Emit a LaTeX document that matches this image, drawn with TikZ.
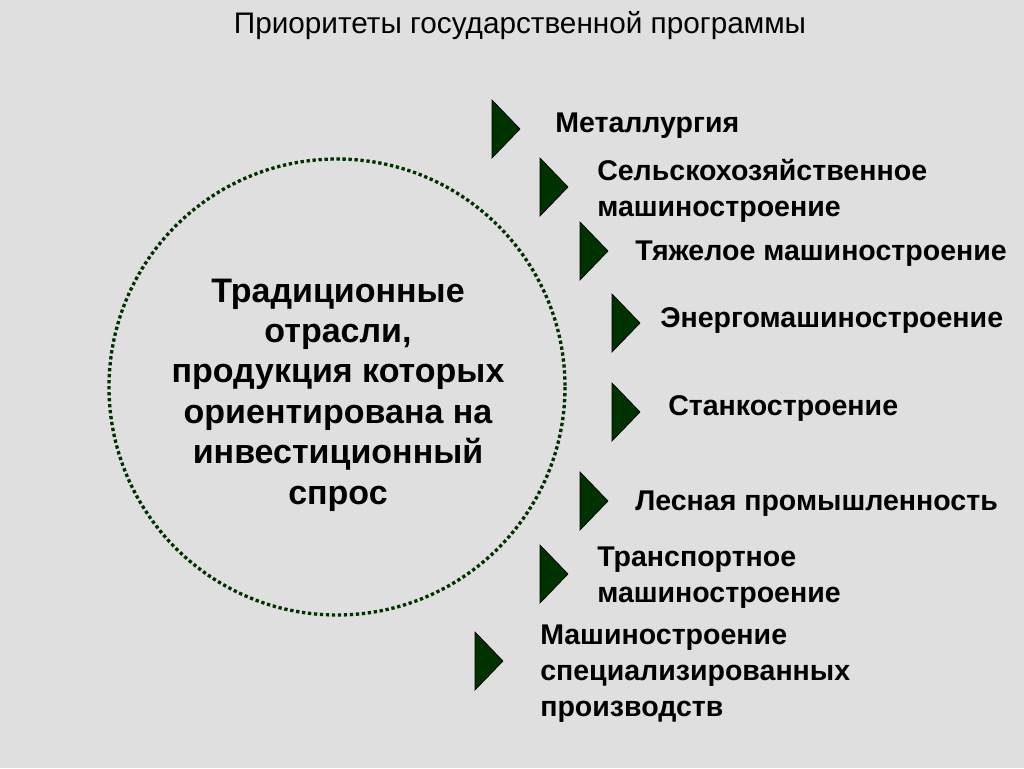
\documentclass[tikz,border=0pt]{standalone}
\usepackage{fontspec}
\setmainfont{Liberation Sans}
\begin{document}
\begin{tikzpicture}[x=0.75pt,y=-0.75pt,
  lbl/.style={anchor=west,align=left,font=\bfseries\fontsize{21.4}{27}\selectfont,inner sep=0pt}]
\definecolor{dg}{RGB}{0,50,0}
\fill[gray!25] (0,0) rectangle (1024,768);
\useasboundingbox (0,0) rectangle (1024,768);
\node (title) at (520,26) {\fontsize{22.3}{26}\selectfont Приоритеты государственной программы};
\draw[dg,line width=2.5pt,dotted] (337,387) circle (228);
\node[align=center,font=\bfseries\fontsize{25.5}{30.3}\selectfont] (c) at (338,395) {Традиционные\\отрасли,\\продукция которых\\ориентирована на\\инвестиционный\\спрос};
\foreach \x/\y [count=\i] in {492/100,540/158,580/222,612/294,612/383,580/472,540/545,475/632}{
  \fill[dg] (\x,\y) -- (\x+28,\y+29) -- (\x,\y+58) -- cycle;
  \draw[black,line width=0.5pt] (\x,\y) -- (\x+28,\y+29) -- (\x,\y+58) -- cycle;
  \coordinate (t\i) at (\x+28,\y+29);
}
\node[lbl] (l1) at (555,126) {Металлургия};
\node[lbl] (l2) at (597,191) {Сельскохозяйственное\\машиностроение};
\node[lbl] (l3) at (635,254) {Тяжелое машиностроение};
\node[lbl] (l4) at (660,320) {Энергомашиностроение};
\node[lbl] (l5) at (668,408) {Станкостроение};
\node[lbl] (l6) at (635,504) {Лесная промышленность};
\node[lbl] (l7) at (597,578) {Транспортное\\машиностроение};
\node[lbl] (l8) at (540,674) {Машиностроение\\специализированных\\производств};
\end{tikzpicture}
\end{document}
